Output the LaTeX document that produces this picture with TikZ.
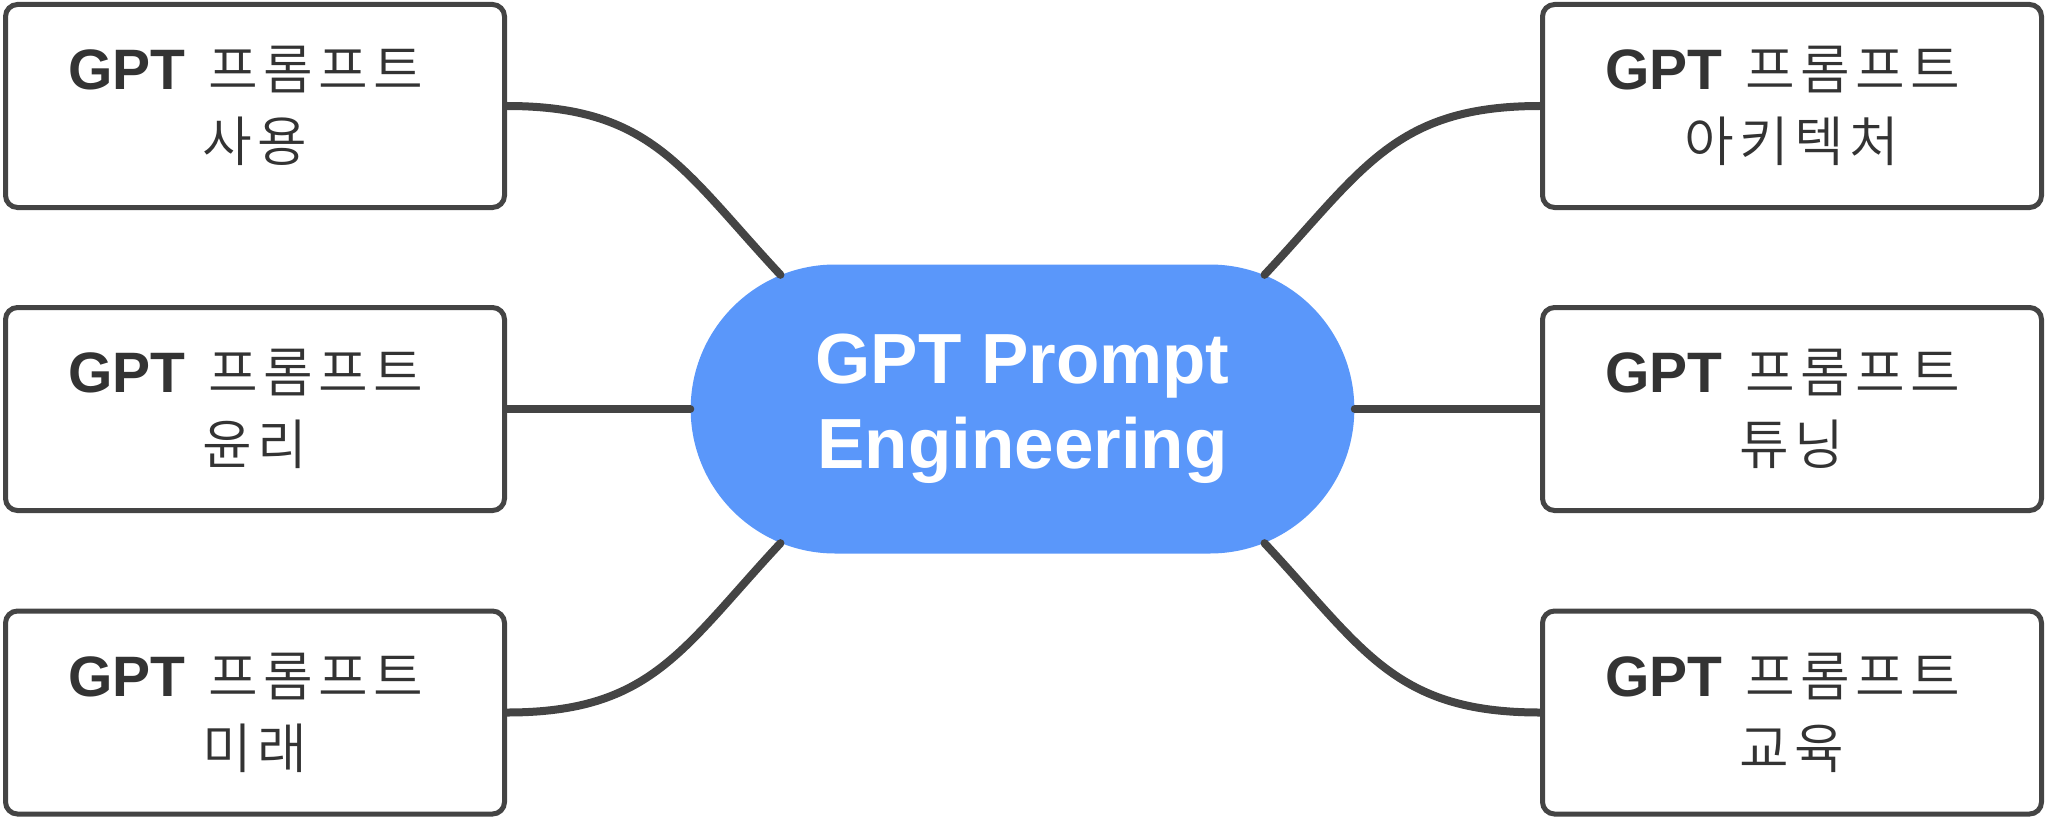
\documentclass[tikz,border=0pt]{standalone}
\usepackage{fontspec}
\setmainfont{Liberation Sans}
\newfontfamily\krfont[LetterSpace=10]{Noto Sans CJK KR DemiLight}
\usetikzlibrary{shapes.misc}
\definecolor{hubblue}{RGB}{90,151,250}
\definecolor{linegray}{RGB}{68,68,68}
\definecolor{textgray}{RGB}{51,51,51}
\newcommand{\topic}[1]{{\bfseries\fontsize{28.5}{36}\selectfont GPT}\hspace{4pt} {\krfont 프롬프트}\hspace*{9pt}\\{\krfont #1}}

\begin{document}
\begin{tikzpicture}[x=0.5pt,y=0.5pt,
  topicbox/.style={draw=linegray,line width=2.5pt,rounded corners=6pt,fill=white,
    minimum width=249.5pt,minimum height=101.5pt,align=center,text=textgray,
    font=\fontsize{27}{36}\selectfont},
  hubnode/.style={rounded rectangle,fill=hubblue,minimum width=338.5pt,minimum height=144.5pt,
    align=center,text=white,font=\bfseries\fontsize{35.5}{42.5}\selectfont},
  link/.style={draw=linegray,line width=4pt,line cap=round}]
\useasboundingbox (0,0) rectangle (2048,821);
\node[hubnode](hub) at (1022.5,412) {GPT Prompt\\Engineering};

\node[topicbox](use) at (255,715) {\topic{사용}};
\node[topicbox](ethics) at (255,412) {\topic{윤리}};
\node[topicbox](future) at (255,108.5) {\topic{미래}};

\node[topicbox](arch) at (1792,715) {\topic{아키텍처}};
\node[topicbox](tuning) at (1792,412) {\topic{튜닝}};
\node[topicbox](edu) at (1792,108.5) {\topic{교육}};

\draw[link] (use.east) to[out=0,in=133,looseness=1.15] (hub.151);
\draw[link] (ethics.east) -- (hub.west);
\draw[link] (future.east) to[out=0,in=-133,looseness=1.15] (hub.209);
\draw[link] (arch.west) to[out=180,in=47,looseness=1.15] (hub.29);
\draw[link] (tuning.west) -- (hub.east);
\draw[link] (edu.west) to[out=180,in=-47,looseness=1.15] (hub.-29);
\end{tikzpicture}
\end{document}
